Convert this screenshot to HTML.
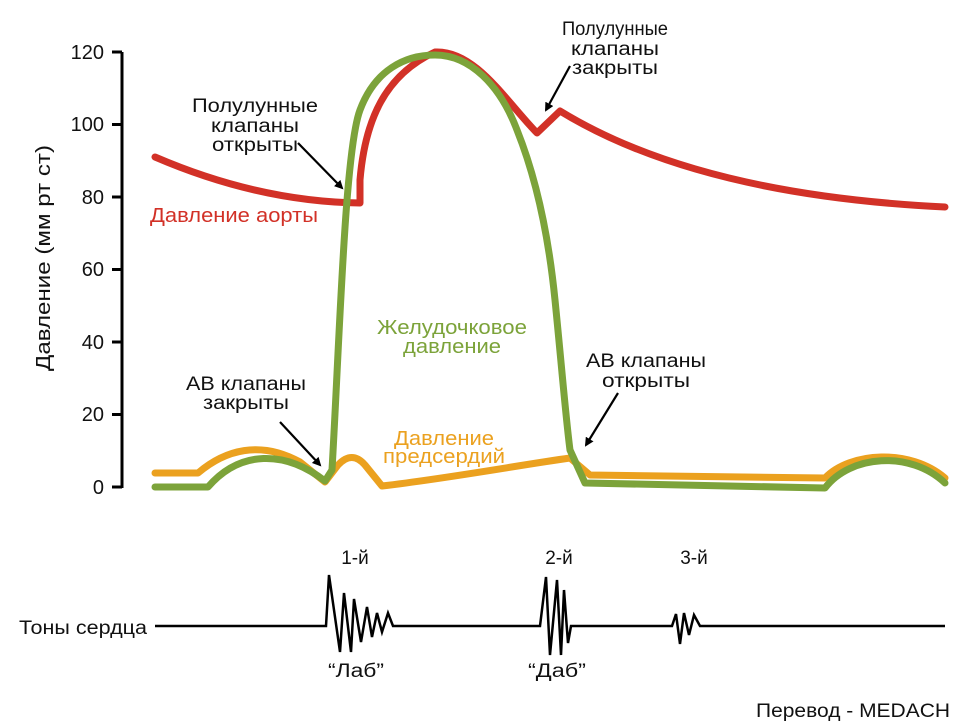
<!DOCTYPE html>
<html><head><meta charset="utf-8"><style>
html,body{margin:0;padding:0;background:#fff;}
svg{display:block;font-family:"Liberation Sans","DejaVu Sans",sans-serif;}
</style></head><body>
<svg width="960" height="725" viewBox="0 0 960 725" xmlns="http://www.w3.org/2000/svg">
<defs><marker id="ah" markerWidth="9" markerHeight="9" refX="7" refY="4.5" orient="auto" markerUnits="userSpaceOnUse"><path d="M0,0 L9,4.5 L0,9 Z" fill="#000"/></marker></defs>
<g stroke="#000" stroke-width="3" fill="none">
<line x1="122" y1="52" x2="122" y2="488"/>
<line x1="112" y1="52" x2="122" y2="52"/>
<line x1="112" y1="124.5" x2="122" y2="124.5"/>
<line x1="112" y1="197" x2="122" y2="197"/>
<line x1="112" y1="269.5" x2="122" y2="269.5"/>
<line x1="112" y1="342" x2="122" y2="342"/>
<line x1="112" y1="414.5" x2="122" y2="414.5"/>
<line x1="112" y1="487" x2="122" y2="487"/>
</g>
<g font-size="20" text-anchor="end" fill="#111">
<text x="104" y="59">120</text><text x="104" y="131">100</text><text x="104" y="204">80</text>
<text x="104" y="276">60</text><text x="104" y="349">40</text><text x="104" y="421">20</text><text x="104" y="494">0</text>
</g>
<text transform="translate(50,258) rotate(-90)" font-size="20" text-anchor="middle" fill="#111" textLength="226" lengthAdjust="spacingAndGlyphs">Давление (мм рт ст)</text>

<path d="M155,157 C220,185 290,202 360,203 L360,180 C365,120 385,75 435,52 C475,50 505,100 537,133 L560,111 C640,160 760,198 945,207" stroke="#d23127" stroke-width="7" fill="none" stroke-linejoin="round" stroke-linecap="round"/>
<path d="M155,473 L198,473 C225,450 260,440 300,462 L325,482 L338,465 Q352,450 365,465 L382,486 C450,478 520,465 570,458 L590,475 L825,478 C850,452 910,448 945,478" stroke="#eba11f" stroke-width="7" fill="none" stroke-linejoin="round" stroke-linecap="round"/>
<path d="M155,487 L208,487 C240,450 285,450 325,481 L332,470 C340,330 345,150 360,110 C375,70 405,55 435,55 C470,55 500,85 517,130 C535,175 548,230 555,300 C562,370 566,420 570,450 L585,483 L825,488 C850,455 910,450 945,483" stroke="#7ca33a" stroke-width="7" fill="none" stroke-linejoin="round" stroke-linecap="round"/>

<g font-size="19" fill="#111" text-anchor="middle" lengthAdjust="spacingAndGlyphs">
<text x="255" y="112" textLength="126" lengthAdjust="spacingAndGlyphs">Полулунные</text><text x="255" y="132" textLength="88" lengthAdjust="spacingAndGlyphs">клапаны</text><text x="255" y="151" textLength="86" lengthAdjust="spacingAndGlyphs">открыты</text>
<text x="615" y="35" textLength="106" lengthAdjust="spacingAndGlyphs">Полулунные</text><text x="615" y="55" textLength="88" lengthAdjust="spacingAndGlyphs">клапаны</text><text x="615" y="74" textLength="86" lengthAdjust="spacingAndGlyphs">закрыты</text>
<text x="246" y="390" textLength="120" lengthAdjust="spacingAndGlyphs">АВ клапаны</text><text x="246" y="409" textLength="86" lengthAdjust="spacingAndGlyphs">закрыты</text>
<text x="646" y="367" textLength="120" lengthAdjust="spacingAndGlyphs">АВ клапаны</text><text x="646" y="387" textLength="88" lengthAdjust="spacingAndGlyphs">открыты</text>
</g>
<text x="150" y="222" font-size="20" fill="#d23127" textLength="168" lengthAdjust="spacingAndGlyphs">Давление аорты</text>
<g font-size="20" fill="#7ca33a" text-anchor="middle"><text x="452" y="334" textLength="150" lengthAdjust="spacingAndGlyphs">Желудочковое</text><text x="452" y="353" textLength="98" lengthAdjust="spacingAndGlyphs">давление</text></g>
<g font-size="20" fill="#eba11f" text-anchor="middle"><text x="444" y="445" textLength="100" lengthAdjust="spacingAndGlyphs">Давление</text><text x="444" y="463" textLength="122" lengthAdjust="spacingAndGlyphs">предсердий</text></g>
<g stroke="#000" stroke-width="2.2" marker-end="url(#ah)">
<line x1="298" y1="143" x2="342" y2="188"/>
<line x1="570" y1="66" x2="546" y2="110"/>
<line x1="280" y1="422" x2="320" y2="465"/>
<line x1="618" y1="393" x2="586" y2="445"/>
</g>

<path d="M155,626 L326,626 L329,575 L340,652 L344,593 L351,652 L354,599 L361,642 L367,607 L372,637 L377,613 L382,632 L388,613 L393,626 L540,626 L546,577 L550,655 L557,580 L561,655 L564,590 L568,643 L571,626 L672,626 L676,614 L680,644 L684,613 L689,635 L694,615 L700,626 L945,626" stroke="#000" stroke-width="2.5" fill="none" stroke-linejoin="miter"/>
<text x="19" y="634" font-size="19" fill="#111" textLength="128" lengthAdjust="spacingAndGlyphs">Тоны сердца</text>
<g font-size="19" fill="#111" text-anchor="middle">
<text x="355" y="564">1-й</text><text x="559" y="564">2-й</text><text x="694" y="564">3-й</text>
<text x="356" y="677" textLength="56" lengthAdjust="spacingAndGlyphs">“Лаб”</text><text x="557" y="677" textLength="58" lengthAdjust="spacingAndGlyphs">“Даб”</text>
</g>
<text x="950" y="717" font-size="19" fill="#111" text-anchor="end" textLength="194" lengthAdjust="spacingAndGlyphs">Перевод - MEDACH</text>
</svg>
</body></html>
